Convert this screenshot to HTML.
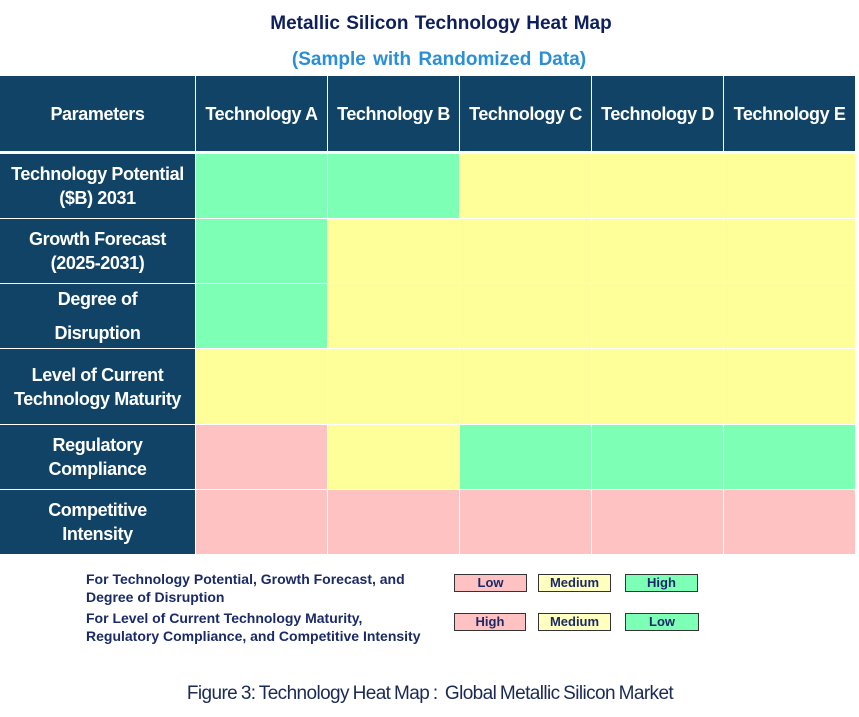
<!DOCTYPE html>
<html><head><meta charset="utf-8"><style>
body{margin:0;width:859px;height:717px;background:#fff;position:relative;font-family:"Liberation Sans",Arial,sans-serif;overflow:hidden}
.a{position:absolute}
.h{background:#114366;color:#fff;font-weight:bold;font-size:18px;display:flex;align-items:center;justify-content:center;text-align:center;line-height:24px;letter-spacing:-0.4px}
.G{background:#7dffb6}.Y{background:#ffff99}.P{background:#ffc2c2}
.leg{font-size:14px;font-weight:bold;color:#1a2a66;line-height:18px;letter-spacing:0px}
.bx{position:absolute;border:1px solid #333;font-size:13px;font-weight:bold;color:#1a2a66;text-align:center;line-height:16px;height:16px}
</style></head><body>
<div class="a" style="left:241px;width:400px;top:13px;text-align:center;font-weight:bold;font-size:19px;color:#0d1f5c;word-spacing:1px;white-space:nowrap">Metallic Silicon Technology Heat Map</div>
<div class="a" style="left:287px;width:304px;top:49px;text-align:center;font-weight:bold;font-size:19px;color:#2a8fd6;word-spacing:2px;white-space:nowrap">(Sample with Randomized Data)</div>

<div class="a h" style="left:0;top:76px;width:195px;height:75px">Parameters</div>
<div class="a h" style="left:196px;top:76px;width:131px;height:75px">Technology A</div>
<div class="a h" style="left:328px;top:76px;width:131px;height:75px">Technology B</div>
<div class="a h" style="left:460px;top:76px;width:131px;height:75px">Technology C</div>
<div class="a h" style="left:592px;top:76px;width:131px;height:75px">Technology D</div>
<div class="a h" style="left:724px;top:76px;width:131px;height:75px">Technology E</div>

<div class="a h" style="left:0;top:154px;width:195px;height:64px">Technology Potential<br>($B) 2031</div>
<div class="a h" style="left:0;top:219px;width:195px;height:64px">Growth Forecast<br>(2025-2031)</div>
<div class="a h" style="left:0;top:284px;width:195px;height:64px;line-height:34px">Degree of<br>Disruption</div>
<div class="a h" style="left:0;top:349px;width:195px;height:75px">Level of Current<br>Technology Maturity</div>
<div class="a h" style="left:0;top:425px;width:195px;height:64px">Regulatory<br>Compliance</div>
<div class="a h" style="left:0;top:490px;width:195px;height:64px">Competitive<br>Intensity</div>

<div class="a G" style="left:196px;top:154px;width:131px;height:64px"></div>
<div class="a G" style="left:328px;top:154px;width:131px;height:64px"></div>
<div class="a Y" style="left:460px;top:154px;width:131px;height:64px"></div>
<div class="a Y" style="left:592px;top:154px;width:131px;height:64px"></div>
<div class="a Y" style="left:724px;top:154px;width:131px;height:64px"></div>

<div class="a G" style="left:196px;top:219px;width:131px;height:64px"></div>
<div class="a Y" style="left:328px;top:219px;width:131px;height:64px"></div>
<div class="a Y" style="left:460px;top:219px;width:131px;height:64px"></div>
<div class="a Y" style="left:592px;top:219px;width:131px;height:64px"></div>
<div class="a Y" style="left:724px;top:219px;width:131px;height:64px"></div>

<div class="a G" style="left:196px;top:284px;width:131px;height:64px"></div>
<div class="a Y" style="left:328px;top:284px;width:131px;height:64px"></div>
<div class="a Y" style="left:460px;top:284px;width:131px;height:64px"></div>
<div class="a Y" style="left:592px;top:284px;width:131px;height:64px"></div>
<div class="a Y" style="left:724px;top:284px;width:131px;height:64px"></div>

<div class="a Y" style="left:196px;top:349px;width:131px;height:75px"></div>
<div class="a Y" style="left:328px;top:349px;width:131px;height:75px"></div>
<div class="a Y" style="left:460px;top:349px;width:131px;height:75px"></div>
<div class="a Y" style="left:592px;top:349px;width:131px;height:75px"></div>
<div class="a Y" style="left:724px;top:349px;width:131px;height:75px"></div>

<div class="a P" style="left:196px;top:425px;width:131px;height:64px"></div>
<div class="a Y" style="left:328px;top:425px;width:131px;height:64px"></div>
<div class="a G" style="left:460px;top:425px;width:131px;height:64px"></div>
<div class="a G" style="left:592px;top:425px;width:131px;height:64px"></div>
<div class="a G" style="left:724px;top:425px;width:131px;height:64px"></div>

<div class="a P" style="left:196px;top:490px;width:131px;height:64px"></div>
<div class="a P" style="left:328px;top:490px;width:131px;height:64px"></div>
<div class="a P" style="left:460px;top:490px;width:131px;height:64px"></div>
<div class="a P" style="left:592px;top:490px;width:131px;height:64px"></div>
<div class="a P" style="left:724px;top:490px;width:131px;height:64px"></div>

<div class="a leg" style="left:86px;top:570px">For Technology Potential, Growth Forecast, and<br>Degree of Disruption</div>
<div class="a leg" style="left:86px;top:609px">For Level of Current Technology Maturity,<br>Regulatory Compliance, and Competitive Intensity</div>

<div class="bx P" style="left:454px;top:574px;width:71px">Low</div>
<div class="bx" style="left:538px;top:574px;width:71px;background:#ffffc0">Medium</div>
<div class="bx G" style="left:625px;top:574px;width:71px">High</div>
<div class="bx P" style="left:454px;top:613px;width:70px">High</div>
<div class="bx" style="left:538px;top:613px;width:71px;background:#ffffc0">Medium</div>
<div class="bx G" style="left:625px;top:613px;width:72px">Low</div>

<div class="a" style="left:120px;top:683px;width:620px;text-align:center;font-size:19px;color:#1a2a55;letter-spacing:-0.6px;word-spacing:-1px;white-space:nowrap">Figure 3: Technology Heat Map :&nbsp; Global Metallic Silicon Market</div>
</body></html>
